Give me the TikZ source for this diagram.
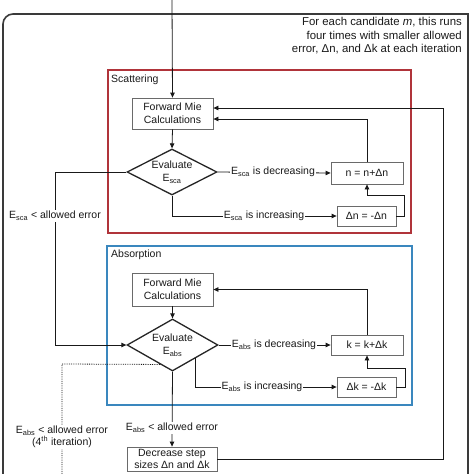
\documentclass[tikz,border=0pt]{standalone}
\usepackage{fontspec}
\setmainfont{Liberation Sans}
\usetikzlibrary{shapes.geometric,arrows.meta,calc}
\definecolor{boxgray}{HTML}{6A6A6A}
\definecolor{txt}{HTML}{1A1A1A}
\definecolor{redb}{HTML}{B0343A}
\definecolor{blueb}{HTML}{3A87BE}
\definecolor{framec}{HTML}{3A3A3A}
\begin{document}
\begin{tikzpicture}[x=1pt,y=-1pt,
  font=\fontsize{10.5}{13}\selectfont,
  box/.style={draw=boxgray, line width=0.8pt, fill=white, inner sep=0pt, align=center, text=txt},
  dia/.style={draw=black!85, line width=1.3pt, shape=diamond, inner sep=0pt, aspect=2, align=center, fill=white, text=txt},
  conn/.style={draw=black!90, line width=0.8pt},
  arr/.style={conn, -{Triangle[length=5pt,width=4.5pt]}},
  lbl/.style={fill=white, inner sep=1pt, text=txt, align=center},
  plain/.style={inner sep=0pt, text=txt, align=center}
]
\useasboundingbox (0,0) rectangle (474,474);
\fill[white] (0,0) rectangle (474,474);

% outer frame
\draw[framec, line width=1.6pt] (3,474) -- (3,24) .. controls (3,18.5) and (7.5,14) .. (13,14) -- (468,14) -- (468,474);

\node[plain, anchor=north east, align=right, font=\fontsize{11.4}{13.3}\selectfont] (note) at (462,17.5)
  {For each candidate \textit{m}, this runs\\four times with smaller allowed\\error, Δn, and Δk at each iteration};

% group boxes
\draw[redb, line width=1.2pt] (108,70) rectangle (411,233);
\node[plain, anchor=west] (scat) at (111,80) {Scattering};
\draw[blueb, line width=1.2pt] (107,246) rectangle (412,405);
\node[plain, anchor=west] (absn) at (111,255) {Absorption};

% scattering nodes
\node[box, minimum width=81pt, minimum height=31pt] (fm1) at (172.5,113.5) {Forward Mie\\Calculations};
\node[dia, minimum width=90pt, minimum height=46pt] (d1) at (172,172) {Evaluate\\E\textsubscript{sca}};
\node[box, minimum width=72pt, minimum height=22pt] (n1) at (367,173) {n = n+Δn};
\node[box, minimum width=59pt, minimum height=20pt] (dn) at (366.5,216) {Δn = -Δn};

% absorption nodes
\node[box, minimum width=81pt, minimum height=33pt] (fm2) at (172.5,289.5) {Forward Mie\\Calculations};
\node[dia, minimum width=91pt, minimum height=52pt] (d2) at (172.5,345) {Evaluate\\E\textsubscript{abs}};
\node[box, minimum width=72pt, minimum height=20pt] (k1) at (367,345) {k = k+Δk};
\node[box, minimum width=59pt, minimum height=20pt] (dk) at (366.5,387) {Δk = -Δk};

\node[box, minimum width=90pt, minimum height=24pt, font=\fontsize{10.5}{12}\selectfont] (dec) at (172,459) {Decrease step\\sizes Δn and Δk};

% coordinates
\coordinate (top) at (172,0);
\coordinate (l1) at (55,172);
\coordinate (loopt) at (443,108);
\coordinate (dot1) at (62,364);
\coordinate (dot2) at (62,474);

% scattering connectors
\draw[arr] (top) -- (fm1.north);
\draw[arr] (fm1.south) -- (d1.north);
\draw[arr] (d1.east) -- (n1.west);
\node[lbl] (lb1) at (273,172) {E\textsubscript{sca} is decreasing};
\draw[arr] (d1.south) |- (dn.west);
\node[lbl] (lb2) at (264,216) {E\textsubscript{sca} is increasing};
\draw[arr] (dn.east) -- ++(8,0) -- ++(0,-21) -| (n1.south);
\draw[arr] (n1.north) |- ([yshift=-5.5pt]fm1.east);

% outer loop
\draw[arr] (dec.east) -| (loopt) -- ([yshift=5.5pt]fm1.east);

% left connector
\draw[arr] (d1.west) -- (l1) |- (d2.west);
\node[lbl] (lb3) at (55,216) {E\textsubscript{sca} < allowed error};

% absorption connectors
\draw[arr] (fm2.south) -- (d2.north);
\draw[arr] (d2.east) -- (k1.west);
\node[lbl] (lb4) at (274,345) {E\textsubscript{abs} is decreasing};
\draw[arr] (d2.south east) |- (dk.west);
\node[lbl] (lb5) at (262,387) {E\textsubscript{abs} is increasing};
\draw[arr] (dk.east) -- ++(9,0) -- ++(0,-19) -| (k1.south);
\draw[arr] (k1.north) |- (fm2.east);

\draw[arr] (d2.south) -- (dec.north);
\node[lbl] (lb6) at (172,428) {E\textsubscript{abs} < allowed error};

% dotted
\draw[conn, densely dotted] ($(d2.south)!0.27!(d2.west)$) -- (dot1) -- (dot2);
\node[lbl, font=\fontsize{10.5}{12.5}\selectfont] (lb7) at (62,437) {E\textsubscript{abs} < allowed error\\(4\textsuperscript{th} iteration)};

\end{tikzpicture}
\end{document}
